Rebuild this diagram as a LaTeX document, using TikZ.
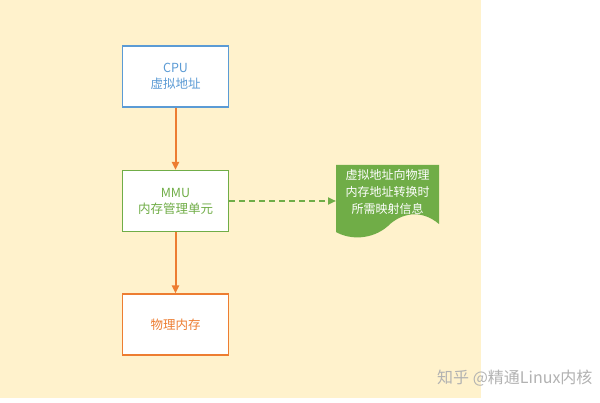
\documentclass[tikz,border=0pt]{standalone}
\usepackage{fontspec}
\newfontfamily\cjk{Noto Sans CJK SC}
\usetikzlibrary{arrows.meta}
\definecolor{bgy}{HTML}{FFF2CC}
\definecolor{cblue}{HTML}{5B9BD5}
\definecolor{cgreen}{HTML}{70AD47}
\definecolor{corange}{HTML}{ED7D31}
\tikzset{
  box/.style={draw=#1, fill=white, line width=1.2pt, minimum width=106pt, minimum height=61pt, align=center, text=#1, font=\cjk\fontsize{12.5}{16}\selectfont},
  arr/.style={-{Triangle[length=8pt,width=7pt]}, line width=2pt, draw=#1}
}
\begin{document}
\begin{tikzpicture}[x=1pt,y=-1pt]
\useasboundingbox (0,0) rectangle (600,403);
\fill[white] (0,0) rectangle (600,403);
\fill[bgy] (0,0) rectangle (481,398);
\node[box=cblue] (cpu) at (175.5,76.5) {CPU\\虚拟地址};
\node[box=cgreen] (mmu) at (175.5,201) {MMU\\内存管理单元};
\node[box=corange] (mem) at (175.5,324.5) {物理内存};
\fill[cgreen] (336,165) -- (439,165) -- (439,224) .. controls (420,208) and (400,214) .. (388,226) .. controls (372,240) and (350,240) .. (336,232) -- cycle;
\node[text=white, align=center, font=\cjk\fontsize{12}{17}\selectfont] (doc) at (387.5,192) {虚拟地址向物理\\内存地址转换时\\所需映射信息};
\coordinate (docw) at (336,201);
\draw[arr=corange] (cpu) -- (mmu);
\draw[arr=corange] (mmu) -- (mem);
\draw[arr=cgreen, dash pattern=on 6pt off 4pt] (mmu.east) -- (docw);
\node[text=gray!60, font=\cjk\fontsize{16}{18}\selectfont, anchor=east] (wm) at (596,378) {知乎 @精通Linux内核};
\end{tikzpicture}
\end{document}
